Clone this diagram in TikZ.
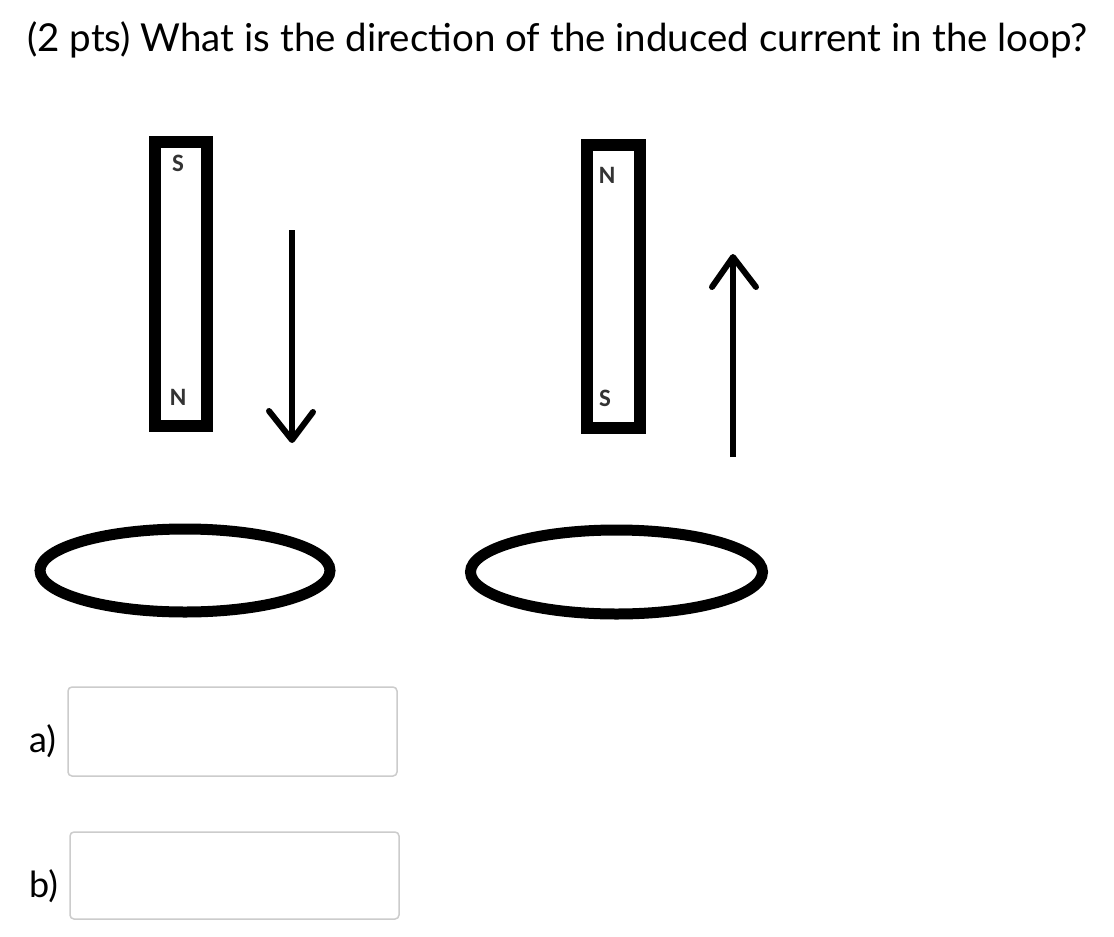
\documentclass[tikz,border=0pt]{standalone}
\usepackage{fontspec}
\setmainfont{Lato}
\newfontfamily\polefont{Carlito}
\begin{document}
\begin{tikzpicture}[x=1pt,y=-1pt,
  magnet/.style={draw=black,line width=12pt,fill=white},
  pole/.style={font=\polefont\bfseries\fontsize{25}{25}\selectfont,text=black!80,inner sep=0pt},
  motion/.style={draw=black,line width=5.5pt},
  tiparm/.style={draw=black,line width=6pt,line cap=round,line join=round},
  loopring/.style={draw=black,line width=11pt},
  answerbox/.style={draw=black!20,line width=1.5pt,rounded corners=4pt},
  question/.style={font=\fontsize{38.5}{40}\selectfont,anchor=base west,inner sep=0pt},
  partlabel/.style={font=\fontsize{36}{38}\selectfont,anchor=base west,inner sep=0pt}]
\useasboundingbox[fill=white] (0,0) rectangle (1114,937);

\node[question] (title) at (27,51) {(2 pts) What is the direction of the induced current in the loop?};

% left magnet
\draw[magnet] (155,142) rectangle (207,426);
\node[pole] (s1) at (178,163) {S};
\node[pole] (n1) at (178,397) {N};
\coordinate (a1start) at (292,230);
\coordinate (a1tip) at (292,440);
\coordinate (a1l) at (269,411);
\coordinate (a1r) at (313,412);
\draw[motion] (a1start) -- (a1tip);
\draw[tiparm] (a1l) -- (a1tip) -- (a1r);

% right magnet
\draw[magnet] (587,144.5) rectangle (639.5,428);
\node[pole] (n2) at (607,175) {N};
\node[pole] (s2) at (605,398) {S};
\coordinate (a2start) at (733,457);
\coordinate (a2tip) at (733,257);
\coordinate (a2l) at (712,287);
\coordinate (a2r) at (756,287);
\draw[motion] (a2start) -- (a2tip);
\draw[tiparm] (a2l) -- (a2tip) -- (a2r);

% loops
\draw[loopring] (185,570.5) ellipse [x radius=145, y radius=41.5];
\draw[loopring] (616.5,572) ellipse [x radius=146, y radius=42];

% answers
\node[partlabel] (la) at (29,752) {a)};
\draw[answerbox] (68,687) rectangle (397,776);
\node[partlabel] (lb) at (29,897) {b)};
\draw[answerbox] (70,832) rectangle (399,919);
\end{tikzpicture}
\end{document}
